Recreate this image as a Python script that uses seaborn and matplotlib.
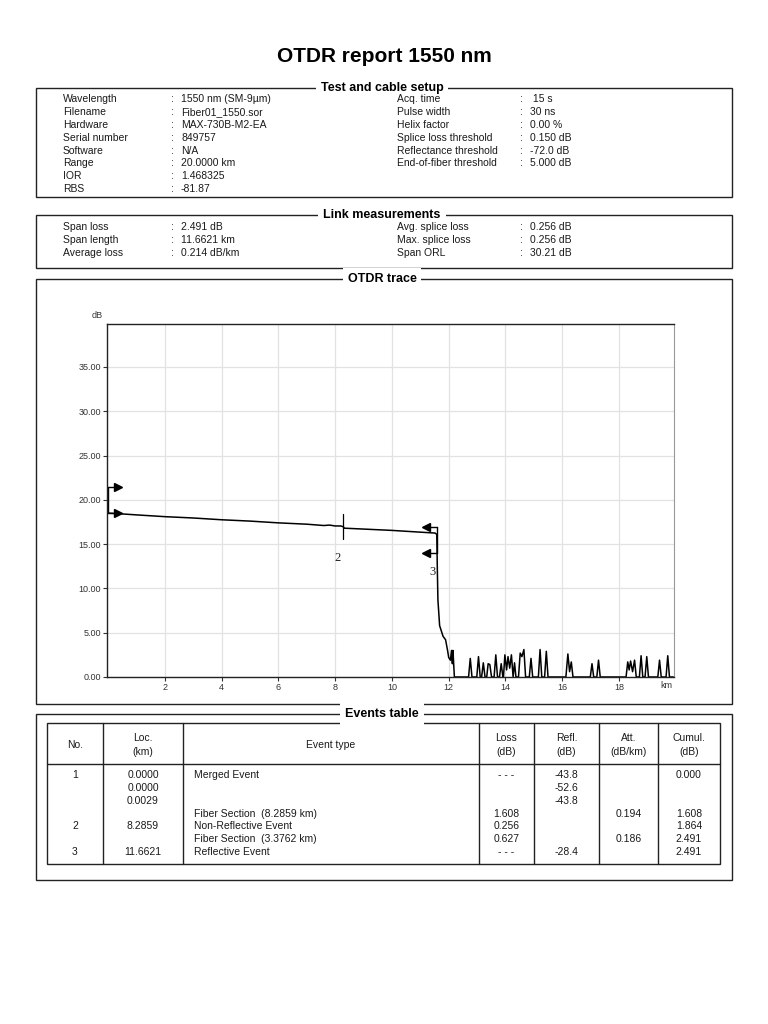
import matplotlib
matplotlib.use("Agg")
import pandas as pd
import matplotlib.pyplot as plt
from matplotlib.patches import Rectangle
from matplotlib.lines import Line2D
import seaborn as sns

# ---- report header fields
setup_left_labels = ["Wavelength", "Filename", "Hardware", "Serial number",
                     "Software", "Range", "IOR", "RBS"]
setup_left_values = ["1550 nm (SM-9µm)", "Fiber01_1550.sor", "MAX-730B-M2-EA", "849757",
                     "N/A", "20.0000 km", "1.468325", "-81.87"]
setup_right_labels = ["Acq. time", "Pulse width", "Helix factor", "Splice loss threshold",
                      "Reflectance threshold", "End-of-fiber threshold"]
setup_right_values = [" 15 s", "30 ns", "0.00 %", "0.150 dB", "-72.0 dB", "5.000 dB"]

link_left_labels = ["Span loss", "Span length", "Average loss"]
link_left_values = ["2.491 dB", "11.6621 km", "0.214 dB/km"]
link_right_labels = ["Avg. splice loss", "Max. splice loss", "Span ORL"]
link_right_values = ["0.256 dB", "0.256 dB", "30.21 dB"]

# ---- OTDR trace (km, dB)
trace_km = [0.00, 0.30, 1.00, 2.00, 3.00, 4.00, 5.00, 6.00, 7.00, 7.60, 7.80, 8.00, 8.20,
            8.29, 8.32, 9.00, 10.00, 11.00, 11.52, 11.58, 11.60, 11.62, 11.68, 11.80, 11.89,
            11.96, 12.00, 12.06, 12.10, 12.13, 12.15, 12.20,
            12.70, 12.76, 12.82,
            12.99, 13.05, 13.11,
            13.16, 13.22, 13.28,
            13.34, 13.39, 13.45, 13.51,
            13.60, 13.66, 13.72,
            13.79, 13.85, 13.91,
            13.93, 13.98, 14.04, 14.09, 14.15, 14.21, 14.27,
            14.32, 14.37,
            14.46, 14.52, 14.58, 14.65, 14.71,
            14.84, 14.90, 14.96,
            15.16, 15.22, 15.28,
            15.38, 15.44, 15.50,
            16.13, 16.20, 16.26, 16.32, 16.38,
            16.99, 17.05, 17.11,
            17.22, 17.28, 17.34,
            18.25, 18.31, 18.36, 18.41, 18.48, 18.55, 18.61,
            18.72, 18.78, 18.84,
            18.92, 18.98, 19.04,
            19.37, 19.43, 19.49,
            19.66, 19.72, 19.78,
            19.92]
trace_db = [18.50, 18.45, 18.30, 18.10, 17.95, 17.75, 17.60, 17.40, 17.25, 17.10, 17.15, 17.05, 17.05,
            16.95, 16.80, 16.70, 16.55, 16.35, 16.25, 16.10, 12.00, 8.70, 5.80, 4.60, 4.20,
            3.00, 2.20, 1.90, 3.00, 1.50, 3.00, 0.00,
            0.00, 2.10, 0.00,
            0.00, 2.30, 0.00,
            0.00, 1.60, 0.00,
            0.00, 1.50, 1.40, 0.00,
            0.00, 2.50, 0.00,
            0.00, 1.50, 0.00,
            0.00, 2.50, 0.80, 2.30, 1.00, 2.50, 0.00,
            1.60, 0.00,
            0.00, 2.70, 2.30, 3.10, 0.00,
            0.00, 2.10, 0.00,
            0.00, 3.10, 0.00,
            0.00, 2.90, 0.00,
            0.00, 2.60, 0.60, 1.70, 0.00,
            0.00, 1.50, 0.00,
            0.00, 1.90, 0.00,
            0.00, 1.70, 0.80, 1.80, 0.60, 1.90, 0.00,
            0.00, 2.40, 0.00,
            0.00, 2.30, 0.00,
            0.00, 1.90, 0.00,
            0.00, 2.40, 0.00,
            0.00]

event_km = [0.0, 8.2859, 11.6621]
y_ticks = [0, 5, 10, 15, 20, 25, 30, 35]
x_ticks = [2, 4, 6, 8, 10, 12, 14, 16, 18]

# ---- events table
col_headers = ["No.", "Loc.\n(km)", "Event type", "Loss\n(dB)", "Refl.\n(dB)",
               "Att.\n(dB/km)", "Cumul.\n(dB)"]
ev_no = ["1", "", "", "", "2", "", "3"]
ev_loc = ["0.0000", "0.0000", "0.0029", "", "8.2859", "", "11.6621"]
ev_type = ["Merged Event", "", "", "Fiber Section  (8.2859 km)", "Non-Reflective Event",
           "Fiber Section  (3.3762 km)", "Reflective Event"]
ev_loss = ["- - -", "", "", "1.608", "0.256", "0.627", "- - -"]
ev_refl = ["-43.8", "-52.6", "-43.8", "", "", "", "-28.4"]
ev_att = ["", "", "", "0.194", "", "0.186", ""]
ev_cumul = ["0.000", "", "", "1.608", "1.864", "2.491", "2.491"]

sns.set_style("white")
plt.rcParams['font.family'] = ['Liberation Sans', 'DejaVu Sans']

W, H = 768, 1024
fig = plt.figure(figsize=(7.68, 10.24), dpi=100)
fig.patch.set_facecolor("white")

def fx(x):
    return x / W

def fy(y):
    return 1 - y / H

def txt(x, y, s, **kw):
    kw.setdefault("fontsize", 7.5)
    kw.setdefault("va", "center")
    kw.setdefault("color", "#1a1a1a")
    fig.text(fx(x), fy(y), s, **kw)

def box(x0, y0, x1, y1, lw=1.0):
    fig.patches.append(Rectangle((fx(x0), fy(y1)), fx(x1) - fx(x0), fy(y0) - fy(y1),
                                 transform=fig.transFigure, fill=False,
                                 edgecolor="#222222", lw=lw))

def section(y0, y1, title):
    box(36, y0, 732, y1)
    txt(382, y0, title, fontsize=9, fontweight="bold", ha="center", color="black",
        bbox=dict(facecolor="white", edgecolor="none", pad=3.5))

# title
txt(384, 56, "OTDR report 1550 nm", fontsize=15, fontweight="bold", ha="center", color="black")

# test and cable setup
section(88, 197, "Test and cable setup")
for i, (lab, val) in enumerate(zip(setup_left_labels, setup_left_values)):
    y = 99 + i * 12.9
    txt(63, y, lab)
    txt(171, y, ":")
    txt(181, y, val)
for i, (lab, val) in enumerate(zip(setup_right_labels, setup_right_values)):
    y = 99 + i * 12.9
    txt(397, y, lab)
    txt(520, y, ":")
    txt(530, y, val)

# link measurements
section(215, 268, "Link measurements")
for i, (lab, val) in enumerate(zip(link_left_labels, link_left_values)):
    y = 227 + i * 12.9
    txt(63, y, lab)
    txt(171, y, ":")
    txt(181, y, val)
for i, (lab, val) in enumerate(zip(link_right_labels, link_right_values)):
    y = 227 + i * 12.9
    txt(397, y, lab)
    txt(520, y, ":")
    txt(530, y, val)

# OTDR trace
section(279, 704, "OTDR trace")
ax = fig.add_axes([fx(106.5), fy(677), fx(674) - fx(106.5), fy(324) - fy(677)])
trace = pd.DataFrame({"km": trace_km, "dB": trace_db})
sns.lineplot(data=trace, x="km", y="dB", ax=ax, sort=False, estimator=None,
             color="black", lw=1.1)
ax.set_xlim(-0.06, 19.94)
ax.set_ylim(0, 39.85)
ax.set_xticks(x_ticks)
ax.set_xticklabels([str(t) for t in x_ticks])
ax.set_yticks(y_ticks)
ax.set_yticklabels([f"{t:.2f}" for t in y_ticks])
ax.set_xlabel("")
ax.set_ylabel("")
ax.grid(True, color="#e2e2e2", lw=0.9)
ax.set_axisbelow(True)
ax.tick_params(axis="both", length=3, width=0.8, pad=1, labelsize=6.5,
               colors="#333333", left=True, bottom=True)
for side in ["left", "bottom", "top"]:
    ax.spines[side].set_color("#222222")
    ax.spines[side].set_linewidth(1.0)
ax.spines["right"].set_color("#999999")
ax.spines["right"].set_linewidth(0.8)

# event markers
e1, e2, e3 = event_km
ax.plot([e1, e1], [18.5, 21.4], color="black", lw=1.0)
for yv in [21.4, 18.5]:
    ax.plot([e1, 0.3], [yv, yv], color="black", lw=1.0)
    ax.plot([0.33], [yv], marker=">", color="black", ms=6, lw=0)
ax.plot([e2, e2], [15.55, 18.45], color="black", lw=0.9)
ax.text(e2 - 0.2, 13.4, "2", fontsize=9, family="Liberation Serif", ha="center",
        va="center", color="#222222")
mx = e3 - 0.07
ax.plot([mx, mx], [14.0, 16.93], color="black", lw=1.0)
for yv in [16.93, 14.0]:
    ax.plot([11.22, mx], [yv, yv], color="black", lw=1.0)
    ax.plot([11.19], [yv], marker="<", color="black", ms=6, lw=0)
ax.text(e3 - 0.22, 11.85, "3", fontsize=9, family="Liberation Serif", ha="center",
        va="center", color="#222222")

txt(97, 316, "dB", fontsize=6.5, ha="center", color="#333333")
txt(666, 685, "km", fontsize=6.5, ha="center", color="#333333")

# events table
section(714, 880, "Events table")
box(47, 723, 720, 864)
col_edges = [47, 103, 183, 479, 534, 599, 658, 720]
for xe in col_edges[1:-1]:
    fig.add_artist(Line2D([fx(xe), fx(xe)], [fy(723), fy(864)],
                          transform=fig.transFigure, color="#222222", lw=1.0))
fig.add_artist(Line2D([fx(47), fx(720)], [fy(764), fy(764)],
                      transform=fig.transFigure, color="#222222", lw=1.0))
col_center = [(a + b) / 2 for a, b in zip(col_edges[:-1], col_edges[1:])]
for i, head in enumerate(col_headers):
    txt(col_center[i], 745, head, ha="center", va="center", linespacing=1.45)

columns = [ev_no, ev_loc, ev_type, ev_loss, ev_refl, ev_att, ev_cumul]
for r in range(len(ev_no)):
    y = 775 + r * 12.85
    for c, col in enumerate(columns):
        if not col[r]:
            continue
        if c == 2:
            txt(194, y, col[r])
        else:
            txt(col_center[c], y, col[r], ha="center")

fig.savefig("out.png", dpi=100)
